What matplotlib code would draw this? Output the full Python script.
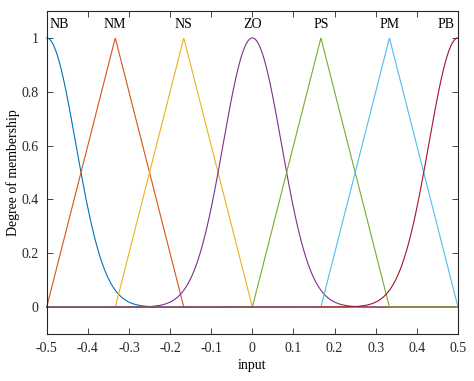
import matplotlib.pyplot as plt
import numpy as np

# membership function names and parameters
mf_names = ['NB', 'NM', 'NS', 'ZO', 'PS', 'PM', 'PB']
mf_types = ['gauss', 'tri', 'tri', 'gauss', 'tri', 'tri', 'gauss']
mf_params = [
    [0.0708, -0.5],
    [-0.5, -0.3333, -0.1667],
    [-0.3333, -0.1667, 0.0],
    [0.0708, 0.0],
    [0.0, 0.1667, 0.3333],
    [0.1667, 0.3333, 0.5],
    [0.0708, 0.5],
]
label_x = [-0.47, -0.3333, -0.1667, 0.0, 0.1667, 0.3333, 0.47]
colors = ['#0072BD', '#D95319', '#EDB120', '#7E2F8E', '#77AC30', '#4DBEEE', '#A2142F']

xticks = [-0.5, -0.4, -0.3, -0.2, -0.1, 0, 0.1, 0.2, 0.3, 0.4, 0.5]
xticklabels = ['-0.5', '-0.4', '-0.3', '-0.2', '-0.1', '0', '0.1', '0.2', '0.3', '0.4', '0.5']
yticks = [0, 0.2, 0.4, 0.6, 0.8, 1]
yticklabels = ['0', '0.2', '0.4', '0.6', '0.8', '1']


def trimf(x, a, b, c):
    return np.maximum(np.minimum((x - a) / (b - a), (c - x) / (c - b)), 0)


def gaussmf(x, sig, c):
    return np.exp(-(x - c) ** 2 / (2 * sig ** 2))


plt.rcParams['font.family'] = 'Liberation Serif'
plt.rcParams['font.size'] = 10

fig = plt.figure(figsize=(4.74, 3.81), dpi=100)
ax = fig.add_axes([46.7 / 474, 1 - 334 / 381, (458 - 46.7) / 474, (334 - 11) / 381])

x = np.linspace(-0.5, 0.5, 1001)
for name, kind, p, col, lx in zip(mf_names, mf_types, mf_params, colors, label_x):
    if kind == 'gauss':
        y = gaussmf(x, *p)
    else:
        y = trimf(x, *p)
    ax.plot(x, y, color=col, lw=0.8, clip_on=False)
    ax.text(lx, 1.05, name, ha='center', va='center', fontsize=10)

ax.set_xlim(-0.5, 0.5)
ax.set_ylim(-0.1, 1.1)
ax.set_xticks(xticks)
ax.set_xticklabels(xticklabels)
ax.set_yticks(yticks)
ax.set_yticklabels(yticklabels)
ax.tick_params(direction='in', length=4, width=0.6, top=True, right=True, colors='#262626', pad=6)
for s in ax.spines.values():
    s.set_linewidth(0.8)
    s.set_color('#262626')
ax.set_xlabel('input', fontsize=10, labelpad=3)
ax.set_ylabel('Degree of membership', fontsize=10, labelpad=1)

fig.savefig('out.png', dpi=100)
